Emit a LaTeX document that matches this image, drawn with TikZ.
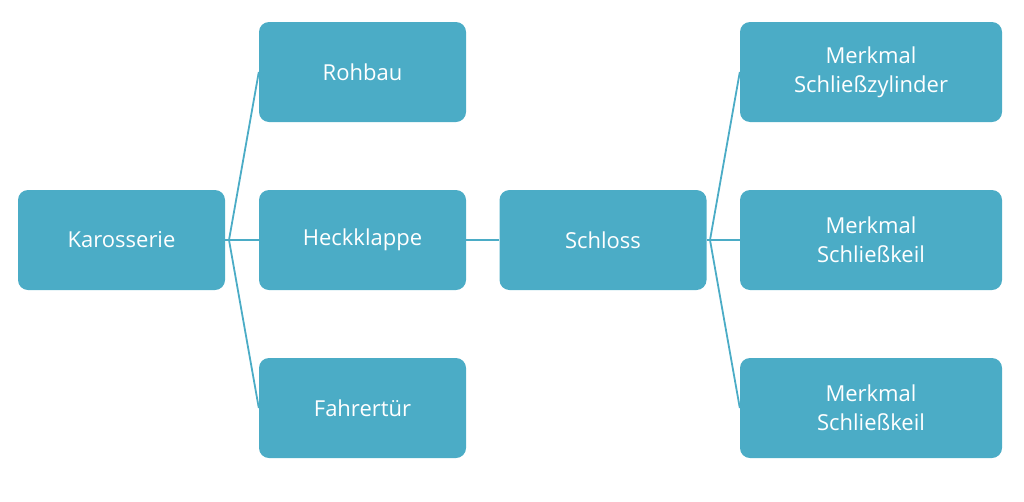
\documentclass[tikz,border=0pt]{standalone}
\usepackage{fontspec}
\setmainfont{Open Sans}
\definecolor{teal}{HTML}{4BACC6}
\begin{document}
\begin{tikzpicture}[x=1pt,y=-1pt,
  box/.style={fill=teal,rounded corners=10pt,minimum height=100pt,text=white,align=center,font=\fontsize{22}{29}\selectfont,inner sep=0pt},
  sbox/.style={box,minimum width=207pt},
  wbox/.style={box,minimum width=262pt},
  con/.style={draw=teal,line width=1.8pt}]
\useasboundingbox (0,0) rectangle (1024,501);
\node[sbox] (kar) at (121.5,240) {Karosserie};
\node[sbox] (roh) at (362.5,72) {Rohbau};
\node[sbox] (hec) at (362.5,240) {Heckklappe};
\node[sbox] (fah) at (362.5,408) {Fahrertür};
\node[sbox] (sch) at (603,240) {Schloss};
\node[wbox] (m1) at (871,72) {Merkmal\\Schließzylinder};
\node[wbox] (m2) at (871,240) {Merkmal\\Schließkeil};
\node[wbox] (m3) at (871,408) {Merkmal\\Schließkeil};
\coordinate (f1) at (229,240);
\coordinate (f2) at (710,240);
\draw[con] (kar.east) -- (f1);
\draw[con] (f1) -- (roh.west);
\draw[con] (f1) -- (hec.west);
\draw[con] (f1) -- (fah.west);
\draw[con] (hec.east) -- (sch.west);
\draw[con] (sch.east) -- (f2);
\draw[con] (f2) -- (m1.west);
\draw[con] (f2) -- (m2.west);
\draw[con] (f2) -- (m3.west);
\end{tikzpicture}
\end{document}
